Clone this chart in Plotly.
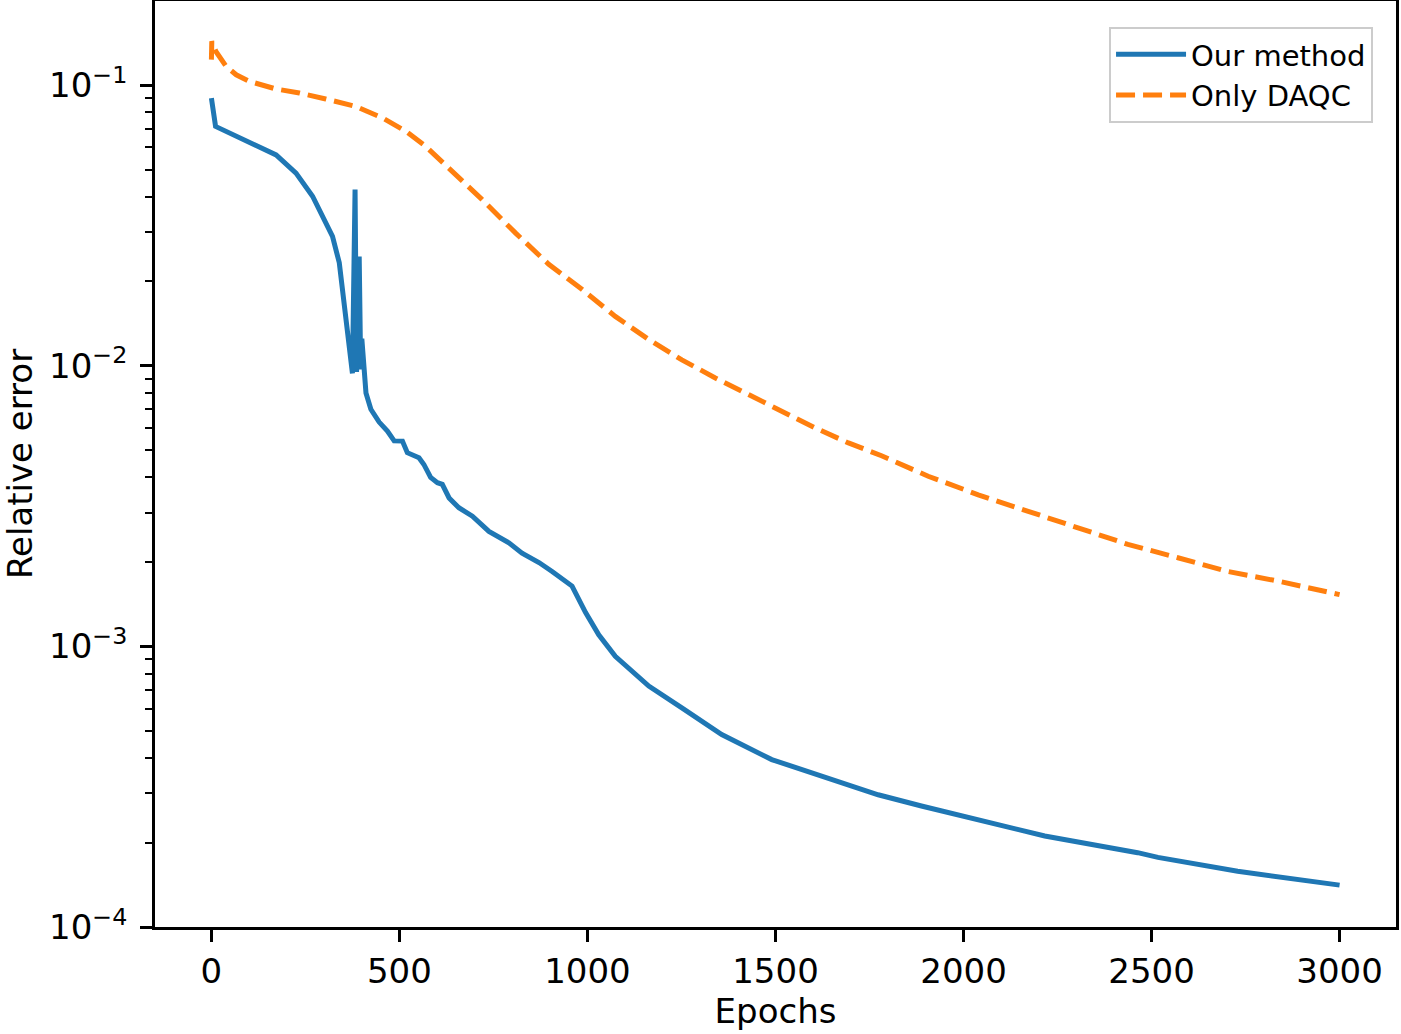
import plotly.graph_objects as go

# Our method (blue)
ours_epochs = [0, 11, 172, 225, 269, 322, 340, 353, 366, 375, 382, 386, 393, 397, 400,
               406, 411, 424, 446, 468, 486, 508, 521, 552, 565, 583, 601, 614, 632, 658,
               694, 738, 791, 826, 871, 906, 959, 995, 1030, 1074, 1163, 1251, 1357, 1490,
               1667, 1773, 1888, 2039, 2127, 2216, 2463, 2517, 2729, 3000]
ours_err = [0.0900, 0.0713, 0.0564, 0.0486, 0.0402, 0.0289, 0.0233, 0.0168, 0.0127, 0.0094,
            0.0425, 0.0095, 0.0245, 0.0097, 0.0125, 0.0092, 0.0080, 0.0070, 0.0063, 0.00585,
            0.0054, 0.00539, 0.0049, 0.0047, 0.00445, 0.0040, 0.00383, 0.00378, 0.00338,
            0.00312, 0.00291, 0.00257, 0.00234, 0.00215, 0.00199, 0.00185, 0.00164, 0.00132,
            0.00110, 0.000922, 0.000722, 0.000604, 0.000485, 0.000395, 0.000331, 0.000296,
            0.000270, 0.000242, 0.000226, 0.000211, 0.000184, 0.000177, 0.000158, 0.000141]

# Only DAQC (orange dashed)
daqc_epochs = [0, 1, 12, 39, 66, 101, 172, 234, 304, 384, 455, 517, 570, 632, 720, 809, 897,
               986, 1074, 1163, 1251, 1340, 1428, 1517, 1605, 1694, 1782, 1906, 2039, 2172,
               2304, 2437, 2570, 2702, 2835, 3000]
daqc_err = [0.1233, 0.1432, 0.1318, 0.1167, 0.1089, 0.1032, 0.0969, 0.0938, 0.0893, 0.0840,
            0.0764, 0.0685, 0.0605, 0.0507, 0.0391, 0.0297, 0.0230, 0.0187, 0.0150, 0.0124,
            0.0105, 0.00905, 0.00789, 0.00688, 0.00601, 0.00531, 0.00478, 0.00404, 0.00347,
            0.00303, 0.00265, 0.00231, 0.00207, 0.00185, 0.00171, 0.00153]

x_ticks = [0, 500, 1000, 1500, 2000, 2500, 3000]
y_ticks = [1e-4, 1e-3, 1e-2, 1e-1]
y_ticktext = ["10<sup>−4</sup>", "10<sup>−3</sup>", "10<sup>−2</sup>", "10<sup>−1</sup>"]
y_minor = [m * 10.0 ** e for e in (-4, -3, -2, -1) for m in range(2, 10)]

fig = go.Figure()
fig.add_trace(go.Scatter(x=ours_epochs, y=ours_err, mode="lines", name="Our method",
                         line=dict(color="#1f77b4", width=5)))
fig.add_trace(go.Scatter(x=daqc_epochs, y=daqc_err, mode="lines", name="Only DAQC",
                         line=dict(color="#ff7f0e", width=5, dash="19px,8px")))

font = "DejaVu Sans"
fig.update_layout(
    width=1401, height=1034,
    margin=dict(l=155, r=5, t=1, b=107),
    paper_bgcolor="white", plot_bgcolor="white",
    font=dict(family=font, size=34, color="black"),
    showlegend=True,
    legend=dict(x=0.9815, y=0.972, xanchor="right", yanchor="top",
                bgcolor="white", bordercolor="#cccccc", borderwidth=2,
                font=dict(family=font, size=29, color="black"),
                itemwidth=70, tracegroupgap=0),
    xaxis=dict(range=[-150, 3150], tickvals=x_ticks, ticktext=[str(t) for t in x_ticks],
               showline=True, mirror=True, linecolor="black", linewidth=2.5,
               ticks="outside", ticklen=12, tickwidth=2.5, tickcolor="black",
               showgrid=False, zeroline=False, automargin=False,
               title=dict(text="Epochs", standoff=10, font=dict(size=34)),
               tickfont=dict(size=34)),
    yaxis=dict(type="log", range=[-4, -0.70], tickvals=y_ticks, ticktext=y_ticktext,
               showline=True, mirror=True, linecolor="black", linewidth=2.5,
               ticks="outside", ticklen=12, tickwidth=2.5, tickcolor="black",
               showgrid=False, zeroline=False, ticklabelstandoff=6, automargin=False,
               minor=dict(tickvals=y_minor, ticks="outside", ticklen=7, tickwidth=2,
                          tickcolor="black", showgrid=False),
               title=dict(text="Relative error", standoff=18, font=dict(size=34)),
               tickfont=dict(size=34)),
)

fig.write_html("out.html", config={"displayModeBar": False},
               post_script="document.body.style.margin='0';")
